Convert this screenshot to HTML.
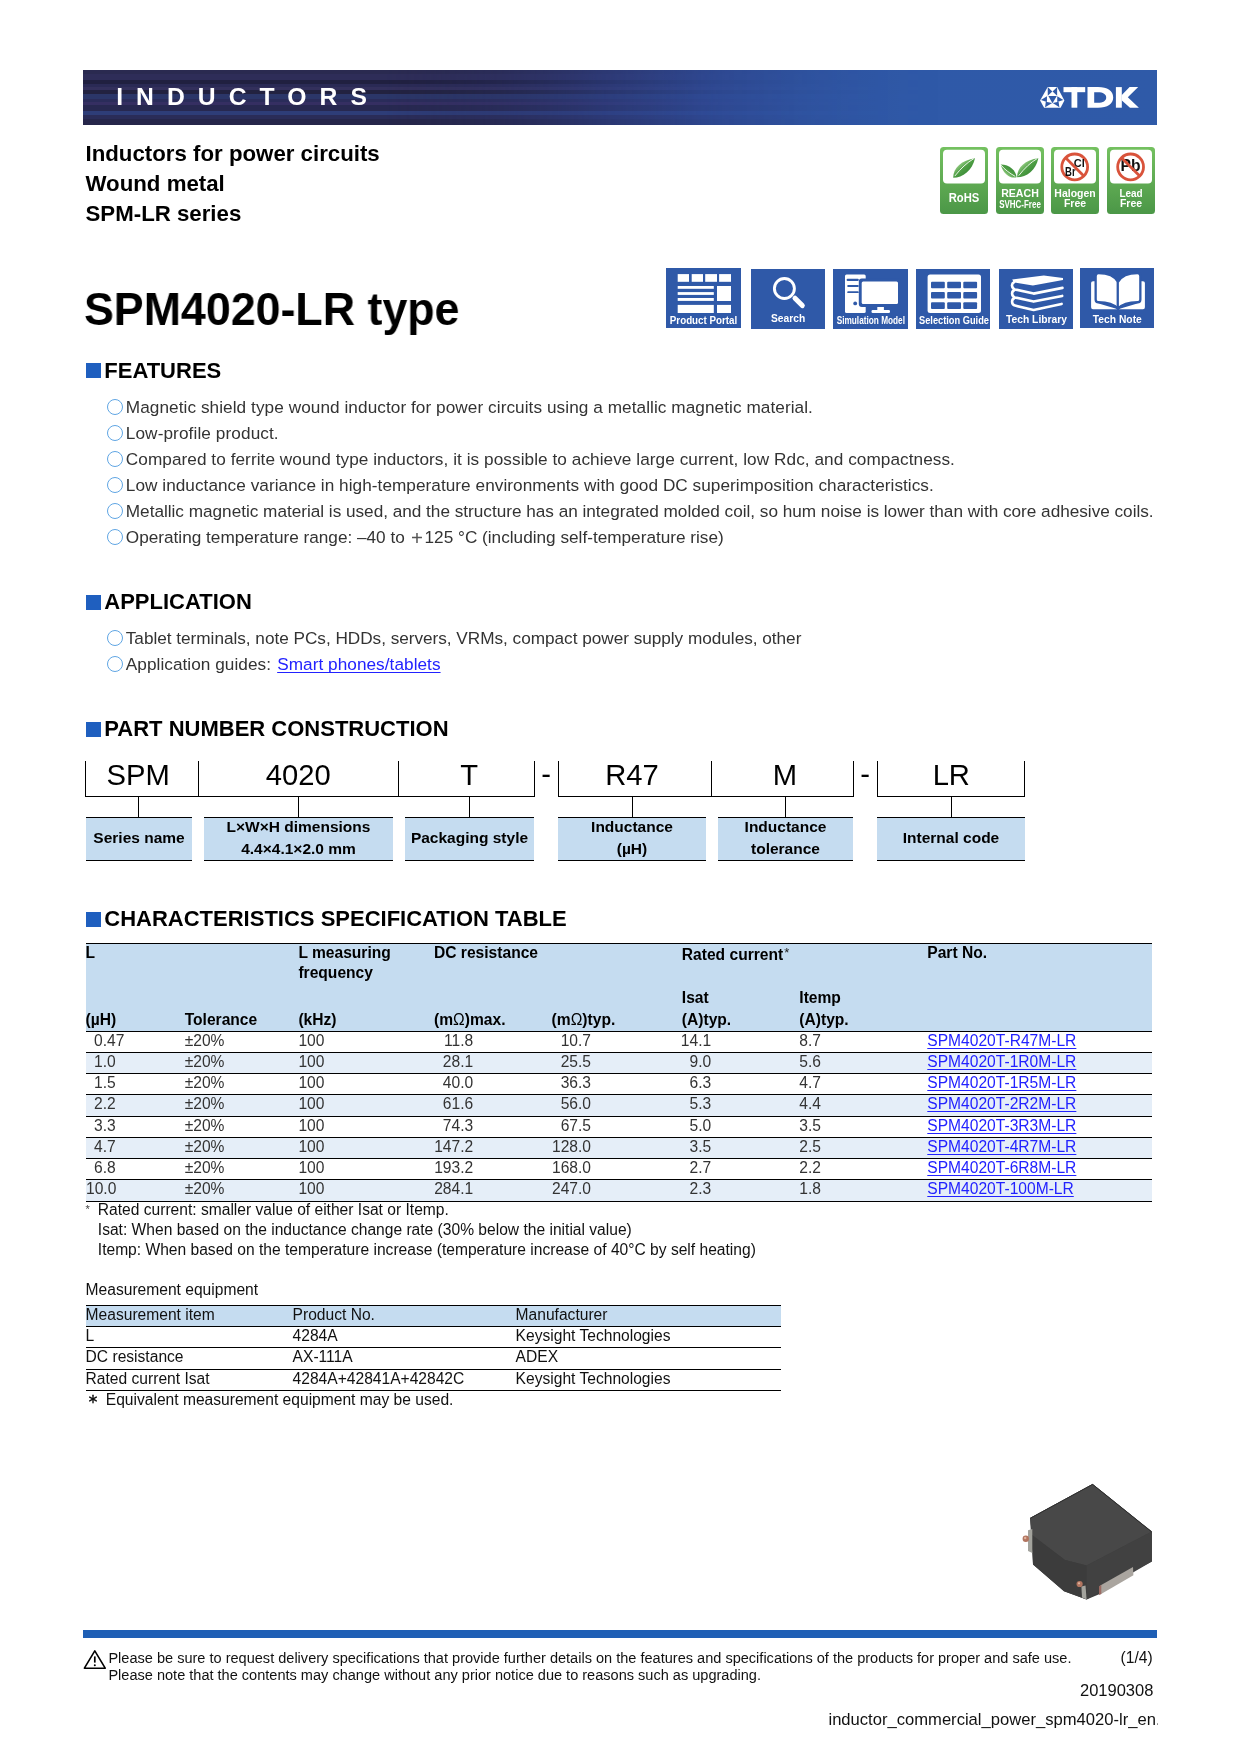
<!DOCTYPE html>
<html><head><meta charset="utf-8"><title>SPM4020-LR type</title>
<style>
*{margin:0;padding:0;box-sizing:border-box}
#pg{position:absolute;left:0;top:0;width:1240px;height:1754px;will-change:transform}
html,body{width:1240px;height:1754px;background:#fff;overflow:hidden}
body{position:relative;font-family:"Liberation Sans",sans-serif;color:#000}
.t{position:absolute;line-height:1;white-space:nowrap}
.r{position:absolute}
.lt{color:#333}
.lnk{color:#2222ff;text-decoration:underline;text-underline-offset:2px;text-decoration-skip-ink:none}
.bul{position:absolute;width:16.5px;height:16.5px;border:1.2px solid #5fa5e3;border-radius:50%}
#hdr{position:absolute;left:83px;top:70px;width:1074px;height:55px;
 background:linear-gradient(90deg,#27274c 0px,#29294f 250px,#2a2d5d 350px,#2c3672 430px,#2e428a 520px,#2f4d9c 620px,#2f55a4 720px,#2f59a8 820px,#2f5aa8 1074px);overflow:hidden}
#hdrs{position:absolute;left:0;top:0;width:100%;height:100%;
 background:linear-gradient(180deg,#2a2a50 0px,#2a2a50 3.6px,#2e2d58 3.6px,#2e2d58 10px,#202040 10px,#202040 14px,#2a2a55 14px,#2a2a55 17.3px,#33305c 17.3px,#33305c 20.4px,#222240 20.4px,#222240 23.5px,#2b3668 23.5px,#2b3668 28.8px,#2a2c5a 28.8px,#2a2c5a 32px,#352f62 32px,#352f62 35px,#272850 35px,#272850 41.4px,#2e3d78 41.4px,#2e3d78 44.5px,#2a2c58 44.5px,#2a2c58 48.7px,#26264a 48.7px);
 -webkit-mask-image:linear-gradient(90deg,rgba(0,0,0,1) 0px,rgba(0,0,0,1) 300px,rgba(0,0,0,.7) 420px,rgba(0,0,0,.4) 520px,rgba(0,0,0,.15) 640px,rgba(0,0,0,.04) 760px,transparent 860px);mix-blend-mode:normal;opacity:1}
</style></head><body><div id="pg">
<div id="hdr"><div id="hdrs"></div></div>
<div class="t" style="top:85.39px;font-size:24.7px;left:116.20px;font-weight:bold;color:#fff;letter-spacing:13.05px;">INDUCTORS</div>
<svg class="r" style="left:1036px;top:82px" width="110" height="32" viewBox="0 0 110 32">
<g transform="translate(2,2)" fill="#fff">
<polygon points="9.7,3 19.2,3 26.4,16.5 22.6,23.8 6.1,23.8 2.1,16.5"/>
</g>
<g transform="translate(2,2)" fill="#2f5aa8">
<polygon points="9.75,3.07 9.75,11.83 14.31,7.51"/>
<polygon points="19.15,3.07 19.15,11.83 14.59,7.51"/>
<polygon points="10.41,11.89 18.81,11.89 14.49,19.33"/>
<polygon points="8.93,12.29 8.93,17.93 2.93,15.89"/>
<polygon points="19.27,12.29 19.27,17.93 25.27,15.89"/>
<polygon points="7.78,17.71 7.06,23.35 14.26,19.03"/>
<polygon points="20.58,17.71 21.42,23.35 14.70,19.03"/>
</g>
<g fill="#fff">
<rect x="27.5" y="5.1" width="21.7" height="5.1"/>
<rect x="35.5" y="5.1" width="5.8" height="20.6"/>
<path fill-rule="evenodd" d="M51.5 5.1 H62 C71.5 5.1 77.2 9 77.2 15.4 C77.2 21.8 71.5 25.7 62 25.7 H51.5 Z M58.2 10.2 H61.8 C67.2 10.2 70.2 12.2 70.2 15.4 C70.2 18.6 67.2 20.8 61.8 20.8 H58.2 Z"/>
<rect x="79.9" y="5.1" width="5.9" height="20.6"/>
<polygon points="85.6,13.2 93.6,5.1 102.2,5.1 91.8,15.3 102.9,25.7 94,25.7 85.6,18.2"/>
</g></svg>
<svg class="r" style="left:940px;top:147px" width="48" height="67" viewBox="0 0 48 67">
<defs><linearGradient id="gg940" x1="0" y1="0" x2="0" y2="1"><stop offset="0" stop-color="#74c160"/><stop offset="0.55" stop-color="#5ea952"/><stop offset="1" stop-color="#4b9747"/></linearGradient></defs>
<rect x="0" y="0" width="48" height="67" rx="3.5" fill="url(#gg940)"/>
<rect x="3" y="2.8" width="42" height="33.6" rx="4" fill="#fff"/>
<defs><linearGradient id="lg132307" x1="0" y1="1" x2="0" y2="0"><stop offset="0" stop-color="#3f8f3a"/><stop offset="0.5" stop-color="#4f9f45"/><stop offset="1" stop-color="#8cc77c"/></linearGradient></defs><g transform="translate(13.2,30.7) rotate(-40.7)"><path d="M0,0 C6.4,-7.8 18.2,-7.8 29.3,-0.6 C19.3,6.9 7.3,6.2 0,0 Z" fill="url(#lg132307)"/><path d="M2.3,-0.2 C11.7,-2.0 20.5,-2.5 28.1,-1.0" stroke="#eef6ea" stroke-width="0.9" fill="none"/></g>
<text x="24" y="55" text-anchor="middle" font-family="Liberation Sans" font-weight="bold" font-size="12.9" fill="#fff" textLength="30.6" lengthAdjust="spacingAndGlyphs">RoHS</text>
</svg>
<svg class="r" style="left:996px;top:147px" width="48" height="67" viewBox="0 0 48 67">
<defs><linearGradient id="gg996" x1="0" y1="0" x2="0" y2="1"><stop offset="0" stop-color="#74c160"/><stop offset="0.55" stop-color="#5ea952"/><stop offset="1" stop-color="#4b9747"/></linearGradient></defs>
<rect x="0" y="0" width="48" height="67" rx="3.5" fill="url(#gg996)"/>
<rect x="3" y="2.8" width="42" height="33.6" rx="4" fill="#fff"/>
<defs><linearGradient id="lg206303" x1="0" y1="1" x2="0" y2="0"><stop offset="0" stop-color="#3f8f3a"/><stop offset="0.5" stop-color="#4f9f45"/><stop offset="1" stop-color="#8cc77c"/></linearGradient></defs><g transform="translate(20.6,30.3) rotate(-139.4)"><path d="M0,0 C4.5,-5.9 12.7,-5.9 20.4,-0.5 C13.5,5.2 5.1,4.8 0,0 Z" fill="url(#lg206303)"/><path d="M1.6,-0.2 C8.2,-1.5 14.3,-1.9 19.6,-0.8" stroke="#eef6ea" stroke-width="0.9" fill="none"/></g><defs><linearGradient id="lg211303" x1="0" y1="1" x2="0" y2="0"><stop offset="0" stop-color="#3f8f3a"/><stop offset="0.5" stop-color="#4f9f45"/><stop offset="1" stop-color="#8cc77c"/></linearGradient></defs><g transform="translate(21.1,30.3) rotate(-40.8)"><path d="M0,0 C6.3,-7.8 17.8,-7.8 28.6,-0.6 C18.9,6.9 7.2,6.2 0,0 Z" fill="url(#lg211303)"/><path d="M2.3,-0.2 C11.5,-2.0 20.1,-2.5 27.5,-1.0" stroke="#eef6ea" stroke-width="0.9" fill="none"/></g>
<text x="24" y="49.8" text-anchor="middle" font-family="Liberation Sans" font-weight="bold" font-size="11.0" fill="#fff" textLength="37.7" lengthAdjust="spacingAndGlyphs">REACH</text><text x="24" y="60.9" text-anchor="middle" font-family="Liberation Sans" font-weight="bold" font-size="10.4" fill="#fff" textLength="41.7" lengthAdjust="spacingAndGlyphs">SVHC-Free</text>
</svg>
<svg class="r" style="left:1051px;top:147px" width="48" height="67" viewBox="0 0 48 67">
<defs><linearGradient id="gg1051" x1="0" y1="0" x2="0" y2="1"><stop offset="0" stop-color="#74c160"/><stop offset="0.55" stop-color="#5ea952"/><stop offset="1" stop-color="#4b9747"/></linearGradient></defs>
<rect x="0" y="0" width="48" height="67" rx="3.5" fill="url(#gg1051)"/>
<rect x="3" y="2.8" width="42" height="33.6" rx="4" fill="#fff"/>
<circle cx="23.7" cy="19.9" r="12.9" fill="none" stroke="#d9533b" stroke-width="2.8"/><text x="14" y="28.7" font-family="Liberation Sans" font-weight="bold" font-size="12" fill="#111" textLength="10.6" lengthAdjust="spacingAndGlyphs">Br</text><text x="22.8" y="19.9" font-family="Liberation Sans" font-weight="bold" font-size="11.5" fill="#111" textLength="11" lengthAdjust="spacingAndGlyphs">Cl</text><line x1="14.6" y1="10.8" x2="32.8" y2="29" stroke="#d9533b" stroke-width="2.8"/>
<text x="24" y="49.6" text-anchor="middle" font-family="Liberation Sans" font-weight="bold" font-size="10.8" fill="#fff" textLength="41.3" lengthAdjust="spacingAndGlyphs">Halogen</text><text x="24" y="60.3" text-anchor="middle" font-family="Liberation Sans" font-weight="bold" font-size="10.8" fill="#fff" textLength="22.2" lengthAdjust="spacingAndGlyphs">Free</text>
</svg>
<svg class="r" style="left:1107px;top:147px" width="48" height="67" viewBox="0 0 48 67">
<defs><linearGradient id="gg1107" x1="0" y1="0" x2="0" y2="1"><stop offset="0" stop-color="#74c160"/><stop offset="0.55" stop-color="#5ea952"/><stop offset="1" stop-color="#4b9747"/></linearGradient></defs>
<rect x="0" y="0" width="48" height="67" rx="3.5" fill="url(#gg1107)"/>
<rect x="3" y="2.8" width="42" height="33.6" rx="4" fill="#fff"/>
<circle cx="23.6" cy="19.9" r="12.9" fill="none" stroke="#d9533b" stroke-width="2.8"/><text x="13.5" y="24.1" font-family="Liberation Sans" font-weight="bold" font-size="17" fill="#111" textLength="20" lengthAdjust="spacingAndGlyphs">Pb</text><line x1="14.5" y1="10.8" x2="32.7" y2="29" stroke="#d9533b" stroke-width="2.8"/>
<text x="24" y="49.6" text-anchor="middle" font-family="Liberation Sans" font-weight="bold" font-size="10.8" fill="#fff" textLength="23.2" lengthAdjust="spacingAndGlyphs">Lead</text><text x="24" y="60.3" text-anchor="middle" font-family="Liberation Sans" font-weight="bold" font-size="10.8" fill="#fff" textLength="22.2" lengthAdjust="spacingAndGlyphs">Free</text>
</svg>
<svg class="r" style="left:666px;top:268px" width="75" height="60" viewBox="0 0 75 60">
<rect x="0" y="0" width="75" height="60" fill="#2f59a8"/>
<g fill="#fff"><rect x="11.7" y="6.1" width="11.3" height="7.7"/><rect x="25.7" y="6.1" width="11.3" height="7.7"/><rect x="39.2" y="6.1" width="11.799999999999997" height="7.7"/><rect x="53.1" y="6.1" width="11.899999999999999" height="7.7"/><rect x="11.7" y="18" width="36.1" height="2.8000000000000007"/><rect x="11.7" y="24.1" width="36.1" height="2.799999999999997"/><rect x="11.7" y="30" width="36.1" height="2.8999999999999986"/><rect x="51" y="18" width="14" height="15"/><rect x="11.7" y="36.9" width="36.1" height="8.1"/><rect x="51" y="36.9" width="14" height="8.1"/></g>
<text x="3.8" y="55.7" font-family="Liberation Sans" font-weight="bold" font-size="10.8" fill="#fff" textLength="67.5" lengthAdjust="spacingAndGlyphs">Product Portal</text>
</svg>
<svg class="r" style="left:751px;top:269px" width="74" height="60" viewBox="0 0 74 60">
<rect x="0" y="0" width="74" height="60" fill="#2f59a8"/>
<g fill="#fff"><circle cx="33.4" cy="19.5" r="10" fill="none" stroke="#fff" stroke-width="2.9"/><line x1="44" y1="29.2" x2="51.3" y2="36.6" stroke="#fff" stroke-width="5" stroke-linecap="round"/></g>
<text x="20" y="53" font-family="Liberation Sans" font-weight="bold" font-size="10.8" fill="#fff" textLength="34.2" lengthAdjust="spacingAndGlyphs">Search</text>
</svg>
<svg class="r" style="left:833px;top:269px" width="75" height="60" viewBox="0 0 75 60">
<rect x="0" y="0" width="75" height="60" fill="#2f59a8"/>
<g fill="#fff"><rect x="12" y="5.5" width="20.7" height="38.5" rx="1.5"/><g fill="#2f59a8"><rect x="13.6" y="9.8" width="12.2" height="2.2" rx="1"/><rect x="14.2" y="16" width="11.6" height="2" rx="1"/><rect x="14.2" y="22.2" width="11.6" height="1.9" rx="1"/><circle cx="22.2" cy="34.4" r="1.9"/><rect x="25.8" y="9.6" width="42.2" height="28.3" rx="3"/></g><rect x="28.7" y="12.4" width="36.3" height="22.5" rx="1.5"/><rect x="44.3" y="38" width="6.6" height="4"/><rect x="38.5" y="41" width="18.5" height="3" rx="1.2"/></g>
<text x="3.7" y="55.2" font-family="Liberation Sans" font-weight="bold" font-size="10.8" fill="#fff" textLength="68.3" lengthAdjust="spacingAndGlyphs">Simulation Model</text>
</svg>
<svg class="r" style="left:916px;top:269px" width="74" height="60" viewBox="0 0 74 60">
<rect x="0" y="0" width="74" height="60" fill="#2f59a8"/>
<g fill="#fff"><rect x="11.6" y="5.5" width="53.4" height="38.5" rx="2.5"/><g fill="#2f59a8"><rect x="15" y="12.8" width="13.8" height="6.4" rx="1"/><rect x="15" y="23" width="13.8" height="6.6" rx="1"/><rect x="15" y="33.3" width="13.8" height="6.7" rx="1"/><rect x="31.2" y="12.8" width="13.8" height="6.4" rx="1"/><rect x="31.2" y="23" width="13.8" height="6.6" rx="1"/><rect x="31.2" y="33.3" width="13.8" height="6.7" rx="1"/><rect x="47.3" y="12.8" width="13.8" height="6.4" rx="1"/><rect x="47.3" y="23" width="13.8" height="6.6" rx="1"/><rect x="47.3" y="33.3" width="13.8" height="6.7" rx="1"/></g></g>
<text x="3" y="54.9" font-family="Liberation Sans" font-weight="bold" font-size="10.8" fill="#fff" textLength="70" lengthAdjust="spacingAndGlyphs">Selection Guide</text>
</svg>
<svg class="r" style="left:999px;top:269px" width="74" height="60" viewBox="0 0 74 60">
<rect x="0" y="0" width="74" height="60" fill="#2f59a8"/>
<g fill="#fff"><polygon points="13.2,10.6 44.8,6.6 64,9.1 64,11 33.9,16.4 15,13.5"/><g fill="none" stroke="#fff" stroke-width="2.6" stroke-linejoin="round" stroke-linecap="round"><path d="M63.5,18.9 L34.6,24.6 L16,20.4 C12.5,19.5 12,14.5 15,13.2"/><path d="M63.2,26.9 L34.6,32.6 L16,28.4 C12.5,27.5 12,22.5 15.5,21"/><path d="M62.6,34.9 L34.6,41 L16,36.6 C12.5,35.7 12,30.5 15.5,29"/></g></g>
<text x="7" y="53.8" font-family="Liberation Sans" font-weight="bold" font-size="10.8" fill="#fff" textLength="61" lengthAdjust="spacingAndGlyphs">Tech Library</text>
</svg>
<svg class="r" style="left:1080px;top:268px" width="74" height="60" viewBox="0 0 74 60">
<rect x="0" y="0" width="74" height="60" fill="#2f59a8"/>
<g fill="#fff"><path d="M11.1,15 Q11.1,13.2 13,13.2 L17,13.2 L17,35 L38,41.3 L13,41.3 Q11.1,41.3 11.1,39.3 Z"/><path transform="translate(76,0) scale(-1,1)" d="M11.1,15 Q11.1,13.2 13,13.2 L17,13.2 L17,35 L38,41.3 L13,41.3 Q11.1,41.3 11.1,39.3 Z"/><g stroke="#2f59a8" stroke-width="2.3" stroke-linejoin="round"><path d="M15.65,8 Q15.65,5.2 18.5,5.2 C27.5,5.2 35,8.5 38.25,14.2 L38.25,40.8 C34,36.3 26,34.2 18.5,34.2 Q15.65,34.2 15.65,31.4 Z"/><path transform="translate(76,0) scale(-1,1)" d="M15.65,8 Q15.65,5.2 18.5,5.2 C27.5,5.2 35,8.5 38.25,14.2 L38.25,40.8 C34,36.3 26,34.2 18.5,34.2 Q15.65,34.2 15.65,31.4 Z"/></g></g>
<text x="12.8" y="54.6" font-family="Liberation Sans" font-weight="bold" font-size="10.8" fill="#fff" textLength="49" lengthAdjust="spacingAndGlyphs">Tech Note</text>
</svg>
<div class="t" style="top:142.57px;font-size:22.25px;left:85.50px;font-weight:bold;">Inductors for power circuits</div>
<div class="t" style="top:172.77px;font-size:22.25px;left:85.50px;font-weight:bold;">Wound metal</div>
<div class="t" style="top:202.97px;font-size:22.25px;left:85.50px;font-weight:bold;">SPM-LR series</div>
<div class="t" style="top:285.41px;font-size:47px;left:84.20px;font-weight:bold;transform:scaleX(0.952);transform-origin:0 0;">SPM4020-LR type</div>
<div class="r" style="left:86px;top:363.4px;width:15px;height:15px;background:#1f5fbf;"></div>
<div class="t" style="top:359.58px;font-size:22.0px;left:104.30px;font-weight:bold;">FEATURES</div>
<div class="r" style="left:86px;top:595.2px;width:15px;height:15px;background:#1f5fbf;"></div>
<div class="t" style="top:591.38px;font-size:22.0px;left:104.30px;font-weight:bold;">APPLICATION</div>
<div class="r" style="left:86px;top:722.0px;width:15px;height:15px;background:#1f5fbf;"></div>
<div class="t" style="top:718.18px;font-size:22.0px;left:104.30px;font-weight:bold;">PART NUMBER CONSTRUCTION</div>
<div class="r" style="left:86px;top:912.0px;width:15px;height:15px;background:#1f5fbf;"></div>
<div class="t" style="top:908.18px;font-size:22.0px;left:104.30px;font-weight:bold;">CHARACTERISTICS SPECIFICATION TABLE</div>
<div class="bul" style="left:106.9px;top:398.90px"></div>
<div class="t lt" style="top:398.84px;font-size:17.2px;left:125.80px;letter-spacing:0.067px;">Magnetic shield type wound inductor for power circuits using a metallic magnetic material.</div>
<div class="bul" style="left:106.9px;top:424.90px"></div>
<div class="t lt" style="top:424.84px;font-size:17.2px;left:125.80px;letter-spacing:0.1px;">Low-profile product.</div>
<div class="bul" style="left:106.9px;top:450.90px"></div>
<div class="t lt" style="top:450.84px;font-size:17.2px;left:125.80px;letter-spacing:0.061px;">Compared to ferrite wound type inductors, it is possible to achieve large current, low Rdc, and compactness.</div>
<div class="bul" style="left:106.9px;top:476.90px"></div>
<div class="t lt" style="top:476.84px;font-size:17.2px;left:125.80px;letter-spacing:0.045px;">Low inductance variance in high-temperature environments with good DC superimposition characteristics.</div>
<div class="bul" style="left:106.9px;top:502.90px"></div>
<div class="t lt" style="top:502.84px;font-size:17.2px;left:125.80px;letter-spacing:-0.015px;">Metallic magnetic material is used, and the structure has an integrated molded coil, so hum noise is lower than with core adhesive coils.</div>
<div class="bul" style="left:106.9px;top:528.90px"></div>
<div class="t lt" style="top:528.84px;font-size:17.2px;left:125.80px;letter-spacing:0.0px;">Operating temperature range: &ndash;40 to <span style="font-size:20.5px;line-height:0;color:#555;margin:0 1.5px 0 1.5px;vertical-align:-2px">+</span>125 &deg;C (including self-temperature rise)</div>
<div class="bul" style="left:106.9px;top:629.90px"></div>
<div class="t lt" style="top:629.84px;font-size:17.2px;left:125.80px;letter-spacing:-0.02px;">Tablet terminals, note PCs, HDDs, servers, VRMs, compact power supply modules, other</div>
<div class="bul" style="left:106.9px;top:655.80px"></div>
<div class="t lt" style="top:655.74px;font-size:17.2px;left:125.80px;letter-spacing:0.05px;">Application guides: <span class="lnk" style="margin-left:1.3px">Smart phones/tablets</span></div>
<div class="r" style="left:85px;top:761px;width:1px;height:36px;background:#000;"></div>
<div class="r" style="left:534px;top:761px;width:1px;height:36px;background:#000;"></div>
<div class="r" style="left:85px;top:796px;width:450px;height:1px;background:#000;"></div>
<div class="r" style="left:198px;top:761px;width:1px;height:35px;background:#000;"></div>
<div class="r" style="left:398px;top:761px;width:1px;height:35px;background:#000;"></div>
<div class="r" style="left:558px;top:761px;width:1px;height:36px;background:#000;"></div>
<div class="r" style="left:853px;top:761px;width:1px;height:36px;background:#000;"></div>
<div class="r" style="left:558px;top:796px;width:296px;height:1px;background:#000;"></div>
<div class="r" style="left:711px;top:761px;width:1px;height:35px;background:#000;"></div>
<div class="r" style="left:877px;top:761px;width:1px;height:36px;background:#000;"></div>
<div class="r" style="left:1024px;top:761px;width:1px;height:36px;background:#000;"></div>
<div class="r" style="left:877px;top:796px;width:148px;height:1px;background:#000;"></div>
<div class="t" style="top:760.88px;font-size:29.2px;left:-161.80px;width:600px;text-align:center;">SPM</div>
<div class="t" style="top:760.88px;font-size:29.2px;left:-1.70px;width:600px;text-align:center;">4020</div>
<div class="t" style="top:760.88px;font-size:29.2px;left:169.20px;width:600px;text-align:center;">T</div>
<div class="t" style="top:760.88px;font-size:29.2px;left:332.00px;width:600px;text-align:center;">R47</div>
<div class="t" style="top:760.88px;font-size:29.2px;left:485.00px;width:600px;text-align:center;">M</div>
<div class="t" style="top:760.88px;font-size:29.2px;left:651.30px;width:600px;text-align:center;">LR</div>
<div class="t" style="top:760.28px;font-size:29.2px;left:246.00px;width:600px;text-align:center;">-</div>
<div class="t" style="top:760.28px;font-size:29.2px;left:565.00px;width:600px;text-align:center;">-</div>
<div class="r" style="left:138px;top:796px;width:1px;height:21px;background:#000;"></div>
<div class="r" style="left:86px;top:817px;width:106px;height:44px;background:#c5dcf0;border-top:1px solid #000;border-bottom:1px solid #000;"></div>
<div class="t" style="top:829.78px;font-size:15.5px;left:-161.00px;width:600px;text-align:center;font-weight:bold;">Series name</div>
<div class="r" style="left:298px;top:796px;width:1px;height:21px;background:#000;"></div>
<div class="r" style="left:204px;top:817px;width:189px;height:44px;background:#c5dcf0;border-top:1px solid #000;border-bottom:1px solid #000;"></div>
<div class="t" style="top:819.28px;font-size:15.5px;left:-1.50px;width:600px;text-align:center;font-weight:bold;">L&times;W&times;H dimensions</div>
<div class="t" style="top:841.18px;font-size:15.5px;left:-1.50px;width:600px;text-align:center;font-weight:bold;">4.4&times;4.1&times;2.0 mm</div>
<div class="r" style="left:469px;top:796px;width:1px;height:21px;background:#000;"></div>
<div class="r" style="left:405px;top:817px;width:129px;height:44px;background:#c5dcf0;border-top:1px solid #000;border-bottom:1px solid #000;"></div>
<div class="t" style="top:829.78px;font-size:15.5px;left:169.50px;width:600px;text-align:center;font-weight:bold;">Packaging style</div>
<div class="r" style="left:632px;top:796px;width:1px;height:21px;background:#000;"></div>
<div class="r" style="left:558px;top:817px;width:148px;height:44px;background:#c5dcf0;border-top:1px solid #000;border-bottom:1px solid #000;"></div>
<div class="t" style="top:819.28px;font-size:15.5px;left:332.00px;width:600px;text-align:center;font-weight:bold;">Inductance</div>
<div class="t" style="top:841.18px;font-size:15.5px;left:332.00px;width:600px;text-align:center;font-weight:bold;">(&micro;H)</div>
<div class="r" style="left:785px;top:796px;width:1px;height:21px;background:#000;"></div>
<div class="r" style="left:718px;top:817px;width:135px;height:44px;background:#c5dcf0;border-top:1px solid #000;border-bottom:1px solid #000;"></div>
<div class="t" style="top:819.28px;font-size:15.5px;left:485.50px;width:600px;text-align:center;font-weight:bold;">Inductance</div>
<div class="t" style="top:841.18px;font-size:15.5px;left:485.50px;width:600px;text-align:center;font-weight:bold;">tolerance</div>
<div class="r" style="left:951px;top:796px;width:1px;height:21px;background:#000;"></div>
<div class="r" style="left:877px;top:817px;width:148px;height:44px;background:#c5dcf0;border-top:1px solid #000;border-bottom:1px solid #000;"></div>
<div class="t" style="top:829.78px;font-size:15.5px;left:651.00px;width:600px;text-align:center;font-weight:bold;">Internal code</div>
<div class="r" style="left:86px;top:943px;width:1066px;height:88px;background:#c5dcf0;border-top:1px solid #000;"></div>
<div class="t" style="top:944.99px;font-size:15.6px;left:85.50px;font-weight:bold;">L</div>
<div class="t" style="top:944.99px;font-size:15.6px;left:298.40px;font-weight:bold;">L measuring</div>
<div class="t" style="top:965.29px;font-size:15.6px;left:298.40px;font-weight:bold;">frequency</div>
<div class="t" style="top:944.99px;font-size:15.6px;left:434.00px;font-weight:bold;">DC resistance</div>
<div class="t" style="top:946.79px;font-size:15.6px;left:681.80px;font-weight:bold;">Rated current<span style="font-weight:normal;font-size:13px;position:relative;top:-3px;color:#222;margin-left:1px">*</span></div>
<div class="t" style="top:944.99px;font-size:15.6px;left:927.30px;font-weight:bold;">Part No.</div>
<div class="t" style="top:989.79px;font-size:15.6px;left:681.80px;font-weight:bold;">Isat</div>
<div class="t" style="top:989.79px;font-size:15.6px;left:799.30px;font-weight:bold;">Itemp</div>
<div class="t" style="top:1011.59px;font-size:15.6px;left:85.50px;font-weight:bold;">(&micro;H)</div>
<div class="t" style="top:1011.59px;font-size:15.6px;left:184.70px;font-weight:bold;">Tolerance</div>
<div class="t" style="top:1011.59px;font-size:15.6px;left:298.40px;font-weight:bold;">(kHz)</div>
<div class="t" style="top:1011.59px;font-size:15.6px;left:434.00px;font-weight:bold;">(m<span style="font-weight:normal">&Omega;</span>)max.</div>
<div class="t" style="top:1011.59px;font-size:15.6px;left:551.60px;font-weight:bold;">(m<span style="font-weight:normal">&Omega;</span>)typ.</div>
<div class="t" style="top:1011.59px;font-size:15.6px;left:681.80px;font-weight:bold;">(A)typ.</div>
<div class="t" style="top:1011.59px;font-size:15.6px;left:799.30px;font-weight:bold;">(A)typ.</div>
<div class="r" style="left:86px;top:1031px;width:1066px;height:21px;background:#fff;"></div>
<div class="r" style="left:86px;top:1031px;width:1066px;height:1px;background:#000;"></div>
<div class="t lt" style="top:1032.79px;font-size:15.6px;left:94.00px;">0.47</div>
<div class="t lt" style="top:1032.79px;font-size:15.6px;left:184.70px;">&plusmn;20%</div>
<div class="t lt" style="top:1032.79px;font-size:15.6px;left:298.40px;">100</div>
<div class="t lt" style="top:1032.79px;font-size:15.6px;right:766.80px;">11.8</div>
<div class="t lt" style="top:1032.79px;font-size:15.6px;right:649.00px;">10.7</div>
<div class="t lt" style="top:1032.79px;font-size:15.6px;right:528.80px;">14.1</div>
<div class="t lt" style="top:1032.79px;font-size:15.6px;left:799.30px;">8.7</div>
<div class="t" style="top:1032.79px;font-size:15.6px;left:927.30px;"><span class="lnk">SPM4020T-R47M-LR</span></div>
<div class="r" style="left:86px;top:1052px;width:1066px;height:21px;background:#e5eef8;"></div>
<div class="r" style="left:86px;top:1052px;width:1066px;height:1px;background:#000;"></div>
<div class="t lt" style="top:1053.79px;font-size:15.6px;left:94.00px;">1.0</div>
<div class="t lt" style="top:1053.79px;font-size:15.6px;left:184.70px;">&plusmn;20%</div>
<div class="t lt" style="top:1053.79px;font-size:15.6px;left:298.40px;">100</div>
<div class="t lt" style="top:1053.79px;font-size:15.6px;right:766.80px;">28.1</div>
<div class="t lt" style="top:1053.79px;font-size:15.6px;right:649.00px;">25.5</div>
<div class="t lt" style="top:1053.79px;font-size:15.6px;right:528.80px;">9.0</div>
<div class="t lt" style="top:1053.79px;font-size:15.6px;left:799.30px;">5.6</div>
<div class="t" style="top:1053.79px;font-size:15.6px;left:927.30px;"><span class="lnk">SPM4020T-1R0M-LR</span></div>
<div class="r" style="left:86px;top:1073px;width:1066px;height:21px;background:#fff;"></div>
<div class="r" style="left:86px;top:1073px;width:1066px;height:1px;background:#000;"></div>
<div class="t lt" style="top:1074.79px;font-size:15.6px;left:94.00px;">1.5</div>
<div class="t lt" style="top:1074.79px;font-size:15.6px;left:184.70px;">&plusmn;20%</div>
<div class="t lt" style="top:1074.79px;font-size:15.6px;left:298.40px;">100</div>
<div class="t lt" style="top:1074.79px;font-size:15.6px;right:766.80px;">40.0</div>
<div class="t lt" style="top:1074.79px;font-size:15.6px;right:649.00px;">36.3</div>
<div class="t lt" style="top:1074.79px;font-size:15.6px;right:528.80px;">6.3</div>
<div class="t lt" style="top:1074.79px;font-size:15.6px;left:799.30px;">4.7</div>
<div class="t" style="top:1074.79px;font-size:15.6px;left:927.30px;"><span class="lnk">SPM4020T-1R5M-LR</span></div>
<div class="r" style="left:86px;top:1094px;width:1066px;height:22px;background:#e5eef8;"></div>
<div class="r" style="left:86px;top:1094px;width:1066px;height:1px;background:#000;"></div>
<div class="t lt" style="top:1095.79px;font-size:15.6px;left:94.00px;">2.2</div>
<div class="t lt" style="top:1095.79px;font-size:15.6px;left:184.70px;">&plusmn;20%</div>
<div class="t lt" style="top:1095.79px;font-size:15.6px;left:298.40px;">100</div>
<div class="t lt" style="top:1095.79px;font-size:15.6px;right:766.80px;">61.6</div>
<div class="t lt" style="top:1095.79px;font-size:15.6px;right:649.00px;">56.0</div>
<div class="t lt" style="top:1095.79px;font-size:15.6px;right:528.80px;">5.3</div>
<div class="t lt" style="top:1095.79px;font-size:15.6px;left:799.30px;">4.4</div>
<div class="t" style="top:1095.79px;font-size:15.6px;left:927.30px;"><span class="lnk">SPM4020T-2R2M-LR</span></div>
<div class="r" style="left:86px;top:1116px;width:1066px;height:21px;background:#fff;"></div>
<div class="r" style="left:86px;top:1116px;width:1066px;height:1px;background:#000;"></div>
<div class="t lt" style="top:1117.79px;font-size:15.6px;left:94.00px;">3.3</div>
<div class="t lt" style="top:1117.79px;font-size:15.6px;left:184.70px;">&plusmn;20%</div>
<div class="t lt" style="top:1117.79px;font-size:15.6px;left:298.40px;">100</div>
<div class="t lt" style="top:1117.79px;font-size:15.6px;right:766.80px;">74.3</div>
<div class="t lt" style="top:1117.79px;font-size:15.6px;right:649.00px;">67.5</div>
<div class="t lt" style="top:1117.79px;font-size:15.6px;right:528.80px;">5.0</div>
<div class="t lt" style="top:1117.79px;font-size:15.6px;left:799.30px;">3.5</div>
<div class="t" style="top:1117.79px;font-size:15.6px;left:927.30px;"><span class="lnk">SPM4020T-3R3M-LR</span></div>
<div class="r" style="left:86px;top:1137px;width:1066px;height:21px;background:#e5eef8;"></div>
<div class="r" style="left:86px;top:1137px;width:1066px;height:1px;background:#000;"></div>
<div class="t lt" style="top:1138.79px;font-size:15.6px;left:94.00px;">4.7</div>
<div class="t lt" style="top:1138.79px;font-size:15.6px;left:184.70px;">&plusmn;20%</div>
<div class="t lt" style="top:1138.79px;font-size:15.6px;left:298.40px;">100</div>
<div class="t lt" style="top:1138.79px;font-size:15.6px;right:766.80px;">147.2</div>
<div class="t lt" style="top:1138.79px;font-size:15.6px;right:649.00px;">128.0</div>
<div class="t lt" style="top:1138.79px;font-size:15.6px;right:528.80px;">3.5</div>
<div class="t lt" style="top:1138.79px;font-size:15.6px;left:799.30px;">2.5</div>
<div class="t" style="top:1138.79px;font-size:15.6px;left:927.30px;"><span class="lnk">SPM4020T-4R7M-LR</span></div>
<div class="r" style="left:86px;top:1158px;width:1066px;height:21px;background:#fff;"></div>
<div class="r" style="left:86px;top:1158px;width:1066px;height:1px;background:#000;"></div>
<div class="t lt" style="top:1159.79px;font-size:15.6px;left:94.00px;">6.8</div>
<div class="t lt" style="top:1159.79px;font-size:15.6px;left:184.70px;">&plusmn;20%</div>
<div class="t lt" style="top:1159.79px;font-size:15.6px;left:298.40px;">100</div>
<div class="t lt" style="top:1159.79px;font-size:15.6px;right:766.80px;">193.2</div>
<div class="t lt" style="top:1159.79px;font-size:15.6px;right:649.00px;">168.0</div>
<div class="t lt" style="top:1159.79px;font-size:15.6px;right:528.80px;">2.7</div>
<div class="t lt" style="top:1159.79px;font-size:15.6px;left:799.30px;">2.2</div>
<div class="t" style="top:1159.79px;font-size:15.6px;left:927.30px;"><span class="lnk">SPM4020T-6R8M-LR</span></div>
<div class="r" style="left:86px;top:1179px;width:1066px;height:22px;background:#e5eef8;"></div>
<div class="r" style="left:86px;top:1179px;width:1066px;height:1px;background:#000;"></div>
<div class="t lt" style="top:1180.79px;font-size:15.6px;left:86.00px;">10.0</div>
<div class="t lt" style="top:1180.79px;font-size:15.6px;left:184.70px;">&plusmn;20%</div>
<div class="t lt" style="top:1180.79px;font-size:15.6px;left:298.40px;">100</div>
<div class="t lt" style="top:1180.79px;font-size:15.6px;right:766.80px;">284.1</div>
<div class="t lt" style="top:1180.79px;font-size:15.6px;right:649.00px;">247.0</div>
<div class="t lt" style="top:1180.79px;font-size:15.6px;right:528.80px;">2.3</div>
<div class="t lt" style="top:1180.79px;font-size:15.6px;left:799.30px;">1.8</div>
<div class="t" style="top:1180.79px;font-size:15.6px;left:927.30px;"><span class="lnk">SPM4020T-100M-LR</span></div>
<div class="r" style="left:86px;top:1201px;width:1066px;height:1px;background:#000;"></div>
<div class="t" style="top:1204.09px;font-size:11px;left:85.60px;color:#444;">*</div>
<div class="t" style="top:1202.49px;font-size:15.6px;left:97.80px;color:#111;">Rated current: smaller value of either Isat or Itemp.</div>
<div class="t" style="top:1222.39px;font-size:15.6px;left:97.80px;color:#111;">Isat: When based on the inductance change rate (30% below the initial value)</div>
<div class="t" style="top:1242.29px;font-size:15.6px;left:97.80px;color:#111;">Itemp: When based on the temperature increase (temperature increase of 40&deg;C by self heating)</div>
<div class="t" style="top:1282.19px;font-size:15.6px;left:85.60px;color:#111;">Measurement equipment</div>
<div class="r" style="left:86px;top:1305px;width:695px;height:21px;background:#c5dcf0;border-top:1px solid #000;"></div>
<div class="t" style="top:1306.59px;font-size:15.6px;left:85.60px;color:#111;">Measurement item</div>
<div class="t" style="top:1306.59px;font-size:15.6px;left:292.60px;color:#111;">Product No.</div>
<div class="t" style="top:1306.59px;font-size:15.6px;left:515.60px;color:#111;">Manufacturer</div>
<div class="r" style="left:86px;top:1326px;width:695px;height:1px;background:#000;"></div>
<div class="t" style="top:1327.99px;font-size:15.6px;left:85.60px;color:#111;">L</div>
<div class="t" style="top:1327.99px;font-size:15.6px;left:292.60px;color:#111;">4284A</div>
<div class="t" style="top:1327.99px;font-size:15.6px;left:515.60px;color:#111;">Keysight Technologies</div>
<div class="r" style="left:86px;top:1347px;width:695px;height:1px;background:#000;"></div>
<div class="t" style="top:1348.99px;font-size:15.6px;left:85.60px;color:#111;">DC resistance</div>
<div class="t" style="top:1348.99px;font-size:15.6px;left:292.60px;color:#111;">AX-111A</div>
<div class="t" style="top:1348.99px;font-size:15.6px;left:515.60px;color:#111;">ADEX</div>
<div class="r" style="left:86px;top:1369px;width:695px;height:1px;background:#000;"></div>
<div class="t" style="top:1370.99px;font-size:15.6px;left:85.60px;color:#111;">Rated current Isat</div>
<div class="t" style="top:1370.99px;font-size:15.6px;left:292.60px;color:#111;">4284A+42841A+42842C</div>
<div class="t" style="top:1370.99px;font-size:15.6px;left:515.60px;color:#111;">Keysight Technologies</div>
<div class="r" style="left:86px;top:1390px;width:695px;height:1px;background:#000;"></div>
<svg class="r" style="left:87px;top:1393px" width="12" height="12" viewBox="0 0 12 12"><g stroke="#111" stroke-width="1.4" stroke-linecap="round"><line x1="6" y1="2.2" x2="6" y2="9.8"/><line x1="2.7" y1="4.1" x2="9.3" y2="7.9"/><line x1="2.7" y1="7.9" x2="9.3" y2="4.1"/></g></svg>
<div class="t" style="top:1391.79px;font-size:15.6px;left:105.80px;color:#111;">Equivalent measurement equipment may be used.</div>
<div class="r" style="left:83px;top:1630px;width:1074px;height:7.7px;background:#1f5fb5;"></div>
<div class="t" style="top:1651.28px;font-size:14.55px;left:108.40px;color:#111;">Please be sure to request delivery specifications that provide further details on the features and specifications of the products for proper and safe use.</div>
<div class="t" style="top:1668.28px;font-size:14.55px;left:108.40px;color:#111;">Please note that the contents may change without any prior notice due to reasons such as upgrading.</div>
<div class="t" style="top:1649.69px;font-size:15.6px;right:87.40px;color:#111;">(1/4)</div>
<div class="t" style="top:1681.63px;font-size:16.5px;right:86.60px;color:#111;">20190308</div>
<div class="t" style="top:1712.35px;font-size:16.6px;right:79.50px;color:#111;">inductor_commercial_power_spm4020-lr_en.</div>
<div class="r" style="left:1157.6px;top:1712px;width:8px;height:18px;background:#fff;"></div>
<svg class="r" style="left:83px;top:1649px" width="24" height="21" viewBox="0 0 24 21"><path d="M11.8 1.9 L22.2 19.2 L1.4 19.2 Z" fill="none" stroke="#000" stroke-width="1.6" stroke-linejoin="round"/><path d="M11.8 7.4 L11.8 13.6" stroke="#000" stroke-width="1.7"/><circle cx="11.8" cy="16.2" r="1.0" fill="#000"/></svg>
<svg class="r" style="left:1018px;top:1478px" width="142" height="128" viewBox="1018 1478 142 128">
<polygon points="1030,1518 1092.6,1483.9 1151.9,1531.6 1151.9,1561.5 1133.4,1571.1 1100.3,1593.7 1086.6,1599.4 1064,1591.3 1033,1564.5 1032.3,1552.9" fill="#3e3e3e"/>
<polygon points="1030,1518 1092.6,1483.9 1151.9,1531.6 1086.6,1565.5 1065,1560 1032,1535" fill="#484848"/>
<polygon points="1032,1535 1065,1560 1086.6,1565.5 1086.6,1599.4 1064,1591.3 1033,1564.5" fill="#3c3c3c"/>
<polygon points="1086.6,1565.5 1151.9,1531.6 1151.9,1561.5 1086.6,1599.4" fill="#414141"/>
<polyline points="1030.3,1518.3 1092.6,1484.4 1151.5,1531.8" fill="none" stroke="#2e2e2e" stroke-width="1"/>
<polygon points="1100.3,1585.6 1133,1567.1 1133.4,1575.2 1100.3,1594.5" fill="#aaa59f"/>
<polygon points="1099,1586.3 1101.3,1585.1 1101.3,1594 1099,1595" fill="#9c6a62"/>
<polygon points="1028,1530.3 1032.3,1529 1032.3,1552.9 1028,1551" fill="#a3a39d"/>
<polygon points="1081.4,1586.5 1085.5,1585.5 1086.6,1599.4 1082,1597.5" fill="#a3a39d"/>
<circle cx="1025.8" cy="1538.7" r="3.2" fill="#b27560"/><circle cx="1025.2" cy="1538" r="1.2" fill="#e2b49e"/>
<circle cx="1079.6" cy="1584" r="3.1" fill="#b27560"/><circle cx="1079" cy="1583.3" r="1.1" fill="#e2b49e"/>
</svg>
</div></body></html>
